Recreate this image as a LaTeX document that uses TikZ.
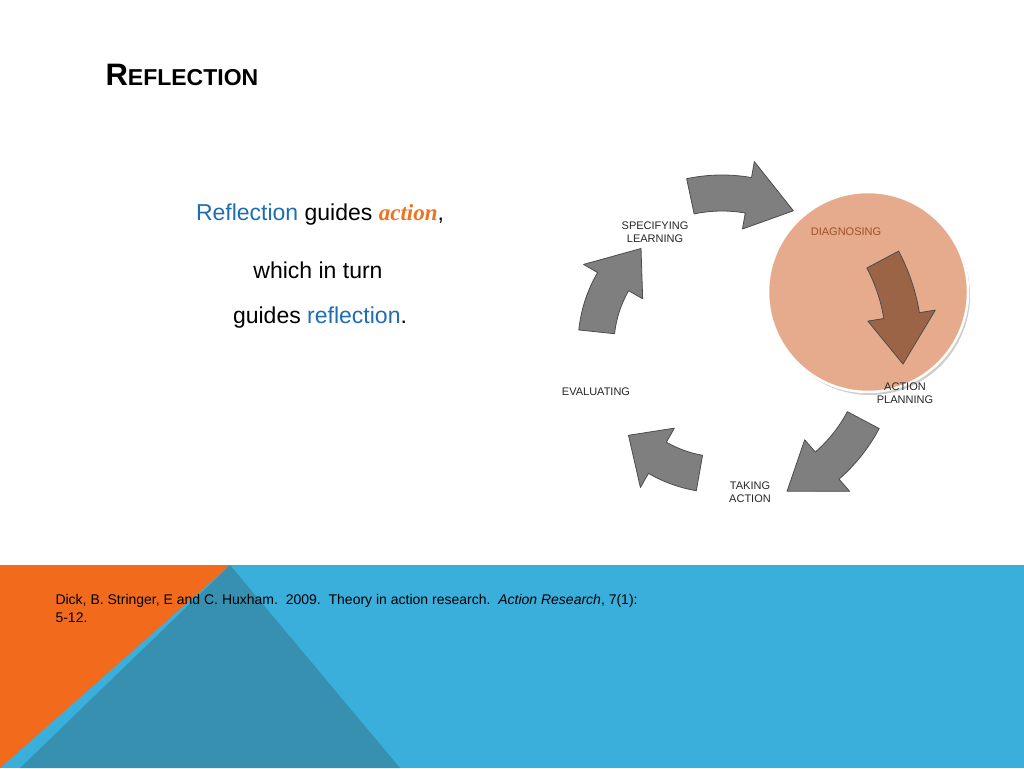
\documentclass[tikz,border=0pt]{standalone}
\usepackage{fontspec}
\setmainfont{Liberation Sans}
\newfontfamily\actfont{Liberation Serif}
\usetikzlibrary{calc,shadows}
\definecolor{bandblue}{HTML}{3AAFDC}
\definecolor{darkteal}{HTML}{3890B0}
\definecolor{orng}{HTML}{F26B1D}
\definecolor{txtblue}{HTML}{1E6DB5}
\definecolor{actorange}{HTML}{EB7420}
\definecolor{arrgray}{HTML}{7F7F7F}
\definecolor{diag}{HTML}{E5AB8C}
\definecolor{brown}{HTML}{9C6446}
\definecolor{diagtxt}{HTML}{A0502A}
\tikzset{lbl/.style={font=\fontsize{11}{13}\selectfont,align=center,text=black!85},
 main/.style={font=\fontsize{23}{27}\selectfont}}
\newcommand\cycarrow[6]{% a1 a2 r w fill name
 \pgfmathsetmacro\aS{#1}\pgfmathsetmacro\aE{#2}\pgfmathsetmacro\aH{#2-(#2-#1)*0.45}
 \pgfmathsetmacro\ri{#3-#4}\pgfmathsetmacro\ro{#3+#4}
 \pgfmathsetmacro\hi{#3-1.9*#4}\pgfmathsetmacro\ho{#3+1.9*#4}
 \path[fill=#5,draw=black!70,line width=0.8pt,line join=round] ($(C)+(\aS:\ri)$) arc[start angle=\aS,end angle=\aH,radius=\ri]
 -- ($(C)+(\aH:\hi)$) -- ($(C)+(\aE:#3)$) -- ($(C)+(\aH:\ho)$) -- ($(C)+(\aH:\ro)$)
 arc[start angle=\aH,end angle=\aS,radius=\ro] -- cycle;
 \coordinate (#6) at ($(C)+({(\aS+\aE)/2}:#3)$);}
\begin{document}
\begin{tikzpicture}[x=1pt,y=-1pt]
\useasboundingbox (0,0) rectangle (1024,768);
\fill[white] (0,0) rectangle (1024,768);
% bottom band
\fill[bandblue] (0,565) rectangle (1024,768);
\fill[orng] (0,565) -- (230,565) -- (0,768) -- cycle;
\fill[darkteal] (230,565) -- (400,768) -- (20,768) -- cycle;
\node[anchor=west,font=\fontsize{14}{18}\selectfont,align=left] (cite) at (52,608)
 {Dick, B. Stringer, E and C. Huxham.\ \ 2009.\ \ Theory in action research.\ \ \textit{Action Research}, 7(1):\\5-12.};
% title
\node[anchor=west,font=\bfseries] (title) at (102,75)
 {{\fontsize{31}{31}\selectfont R}{\fontsize{23}{23}\selectfont EFLECTION}};
% main text
\node[main] (l1) at (320,215) {\textcolor{txtblue}{Reflection} guides {\actfont\bfseries\itshape\textcolor{actorange}{action}},};
\node[main] (l2) at (318,270) {which in turn};
\node[main] (l3) at (320,318) {guides \textcolor{txtblue}{reflection}.};
% cycle
\coordinate (C) at (722,345);
\node[circle,minimum size=200pt,fill=diag,draw=white,line width=2.5pt,drop shadow={opacity=0.4,shadow xshift=2pt,shadow yshift=-3pt}] (diagc) at (868,292) {};
\cycarrow{-102}{-62}{152}{18}{arrgray}{a1}
\cycarrow{-28}{6}{182}{18}{brown}{a2}
\cycarrow{28}{66}{160}{18}{arrgray}{a3}
\cycarrow{100}{136}{130}{18}{arrgray}{a4}
\cycarrow{186}{230}{126}{18}{arrgray}{a5}
\node[lbl] (spec) at (655,232) {SPECIFYING\\LEARNING};
\node[lbl,text=diagtxt] (dg) at (846,232) {DIAGNOSING};
\node[lbl] (ap) at (905,393) {ACTION\\PLANNING};
\node[lbl] (ta) at (750,492) {TAKING\\ACTION};
\node[lbl] (ev) at (596,392) {EVALUATING};
\end{tikzpicture}
\end{document}
